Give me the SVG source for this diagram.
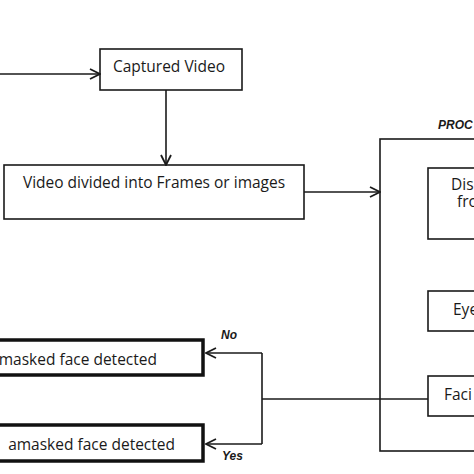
<svg xmlns="http://www.w3.org/2000/svg" width="474" height="474" viewBox="0 0 474 474">
<style>
.box{fill:#fff;stroke:#1a1a1a;stroke-width:1.6}
.thick{fill:#fff;stroke:#111;stroke-width:3.5}
.t{font-family:"Open Sans","Liberation Sans",sans-serif;font-size:15.5px;fill:#1a1a1a}
.b{font-family:"Liberation Sans",sans-serif;font-size:12px;font-weight:bold;font-style:italic;fill:#1a1a1a}
.c{fill:none;stroke:#1a1a1a;stroke-width:1.6}
</style>
<defs>
<marker id="ah" viewBox="0 0 12 12" refX="11" refY="6" markerWidth="12" markerHeight="12" markerUnits="userSpaceOnUse" orient="auto">
<path d="M1,1 L11,6 L1,11" fill="none" stroke="#1a1a1a" stroke-width="1.8"/>
</marker>
</defs>
<rect width="474" height="474" fill="#fff"/>
<g id="captured">
<rect class="box" x="100" y="49" width="142" height="41"/>
<text class="t" x="169" y="72" text-anchor="middle">Captured Video</text>
</g>
<g id="frames">
<rect class="box" x="4" y="165" width="300" height="54"/>
<text class="t" x="154" y="188" text-anchor="middle">Video divided into Frames or images</text>
</g>
<g id="processing">
<rect class="box" x="380" y="139" width="110" height="312"/>
<text class="b" x="438" y="129">PROC</text>
</g>
<g id="distance">
<rect class="box" x="428" y="168" width="60" height="71"/>
<text class="t" x="451" y="190">Dis</text>
<text class="t" x="457" y="207">fro</text>
</g>
<g id="eye">
<rect class="box" x="428" y="291" width="60" height="40"/>
<text class="t" x="453" y="315">Eye</text>
</g>
<g id="facial">
<rect class="box" x="428" y="376" width="60" height="40"/>
<text class="t" x="444" y="400">Faci</text>
</g>
<g id="masked">
<rect class="thick" x="-10" y="340" width="213" height="35"/>
<text class="t" x="157" y="365" text-anchor="end">masked face detected</text>
</g>
<g id="unmasked">
<rect class="thick" x="-10" y="425" width="213" height="36"/>
<text class="t" x="175" y="450" text-anchor="end">amasked face detected</text>
</g>
<g id="connectors">
<line class="c" x1="0" y1="74" x2="100" y2="74" marker-end="url(#ah)"/>
<line class="c" x1="166" y1="90" x2="166" y2="165" marker-end="url(#ah)"/>
<line class="c" x1="304" y1="192" x2="380" y2="192" marker-end="url(#ah)"/>
<line class="c" x1="428" y1="399" x2="262" y2="399"/>
<polyline class="c" points="262,353 262,444"/>
<line class="c" x1="262" y1="353" x2="206" y2="353" marker-end="url(#ah)"/>
<line class="c" x1="262" y1="444" x2="206" y2="444" marker-end="url(#ah)"/>
<text class="b" x="221" y="339">No</text>
<text class="b" x="222" y="460">Yes</text>
</g>
</svg>
